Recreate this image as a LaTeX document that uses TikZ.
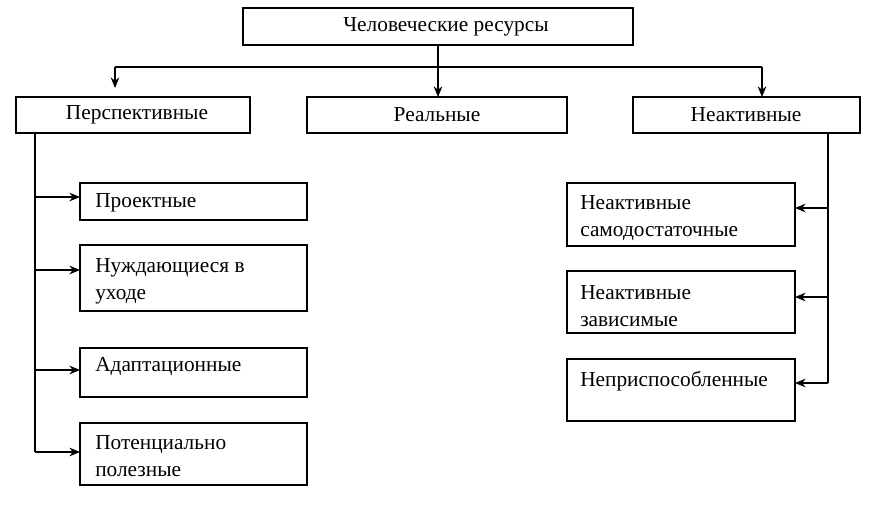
\documentclass[tikz,border=0pt]{standalone}
\usepackage{fontspec}
\setmainfont{Liberation Serif}
\usetikzlibrary{arrows.meta}
\begin{document}
\begin{tikzpicture}[x=0.75pt,y=-0.75pt,
  box/.style={draw,line width=0.8pt},
  lbl/.style={anchor=west,font=\fontsize{16}{20}\selectfont,align=left,inner sep=0},
  arr/.style={line width=0.8pt,-{Stealth[length=8pt,width=6.5pt]}},
  ln/.style={line width=0.8pt}]
\useasboundingbox (0,0) rectangle (891,506);
\draw[box] (243,8) rectangle (633,45);
\node[lbl,anchor=center] (top) at (446,27) {Человеческие ресурсы};
\draw[box] (16,97) rectangle (250,133);
\node[lbl,anchor=center] (p) at (137,115) {Перспективные};
\draw[box] (307,97) rectangle (567,133);
\node[lbl,anchor=center] (r) at (437,115) {Реальные};
\draw[box] (633,97) rectangle (860,133);
\node[lbl,anchor=center] (n) at (746,115) {Неактивные};
\coordinate (tb) at (438,45);
\coordinate (h) at (438,67);
\coordinate (hl) at (115,67);
\coordinate (hr) at (762,67);
\draw[ln] (hl) -- (hr);
\draw[ln] (tb) -- (h);
\draw[arr] (h) -- (438,97);
\draw[arr] (hl) -- (115,88);
\draw[arr] (hr) -- (762,97);
% left
\draw[ln] (35,133) -- (35,452);
\foreach \ya/\yb/\yc in {183/220/197,245/311/270,348/397/370,423/485/452}{
  \draw[box] (80,\ya) rectangle (307,\yb);
  \draw[arr] (35,\yc) -- (80,\yc);
}
\node[lbl] (l1) at (95,203) {Проектные};
\node[lbl] (l2) at (95,281) {Нуждающиеся в\\уходе};
\node[lbl] (l3) at (95,367) {Адаптационные};
\node[lbl] (l4) at (95,456) {Потенциально\\полезные};
% right
\draw[ln] (828,133) -- (828,383);
\foreach \ya/\yb/\yc in {183/246/208,271/333/297,359/421/383}{
  \draw[box] (567,\ya) rectangle (795,\yb);
  \draw[arr] (828,\yc) -- (795,\yc);
}
\node[lbl] (r1) at (580,218) {Неактивные\\самодостаточные};
\node[lbl] (r2) at (580,306) {Неактивные\\зависимые};
\node[lbl] (r3) at (580,381) {Неприспособленные};
\end{tikzpicture}
\end{document}
